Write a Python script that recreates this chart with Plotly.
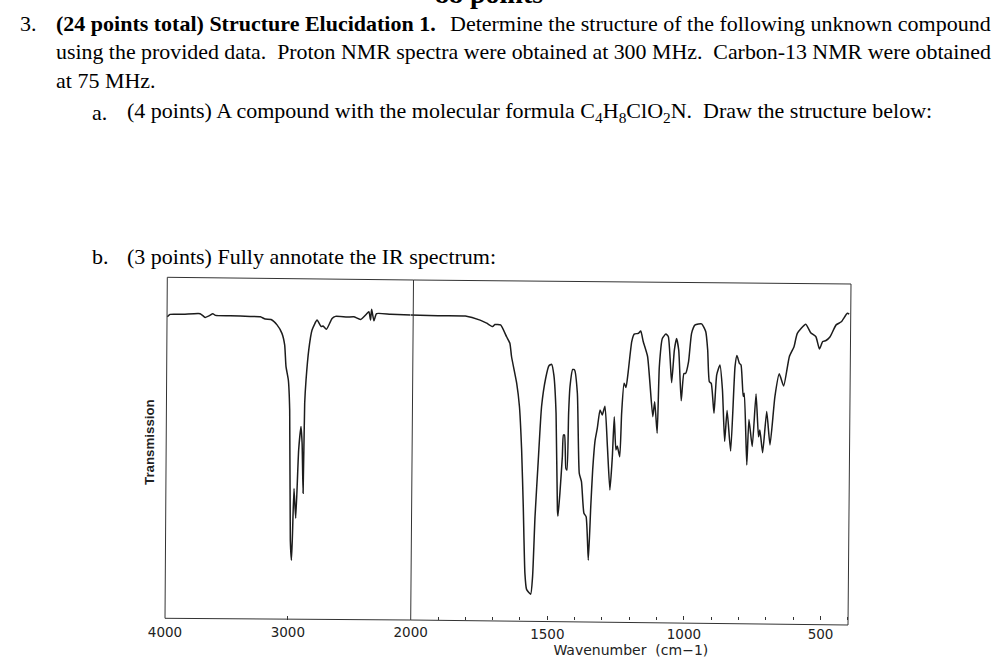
import plotly.graph_objects as go

W, H = 1002, 661

wn_high = [3981,3959,3850,3714,3673,3638,3611,3589,3469,3306,3224,3184,3137,3088,3048,3026,3015,2996,2985,2980,2971,2963,2950,2936,2912,2893,2884,2876,2863,2852,2830,2803,2762,2729,2713,2686,2640,2612,2517,2463,2408,2354,2340,2327,2318,2299,2278,2163,2000]
t_high = [89.2,89.9,89.9,90.1,89.0,89.5,90.1,89.6,89.5,89.3,89.2,88.5,88.4,86.8,84.3,80.9,74.5,70.6,61.8,23.5,17.6,24.5,38.7,29.9,50.0,56.9,52.0,37.3,63.7,70.6,79.4,85.3,88.2,86.3,86.5,85.5,88.7,89.3,89.1,89.2,88.4,90.2,90.7,88.2,91.4,88.0,90.1,89.9,89.7]

wn_low = [2000,1900,1800,1746,1722,1700,1692,1671,1649,1637,1631,1612,1602,1594,1588,1582,1576,1561,1554,1545,1533,1521,1506,1494,1484,1476,1468,1463,1461,1454,1445,1441,1437,1432,1428,1422,1417,1407,1400,1390,1383,1375,1366,1358,1350,1341,1334,1325,1317,1307,1299,1289,1280,1271,1262,1255,1249,1244,1235,1228,1219,1212,1204,1191,1182,1167,1158,1149,1133,1114,1107,1098,1090,1079,1066,1057,1045,1035,1027,1019,1010,1000,994,983,972,959,935,920,913,907,900,890,880,868,859,851,842,829,813,806,797,791,783,779,770,762,750,736,727,722,712,697,685,667,651,635,614,597,585,554,536,517,504,492,480,465,443,424,402,395]
t_low = [89.7,89.5,89.4,88.2,87.3,86.3,86.9,86.8,83.3,81.4,77.5,69.6,62.8,50.0,33.3,13.7,9.0,7.6,12.7,30.4,47.1,62.8,71.1,74.8,75.2,72.0,60.8,32.4,30.6,37.2,48.0,54.4,54.4,44.6,44.1,60.8,68.6,73.7,73.5,66.7,43.1,40.7,31.4,30.4,17.6,33.3,44.1,52.9,56.4,61.8,60.3,62.9,51.0,38.2,48.0,59.8,50.0,51.2,48.0,60.8,69.6,68.4,73.0,81.9,84.1,84.3,85.0,81.9,77.5,59.8,64.2,54.9,74.5,82.8,84.1,83.3,69.8,79.4,82.8,79.4,64.5,72.5,72.5,76.0,84.3,86.8,87.1,84.8,79.4,70.1,69.6,60.8,72.1,75.0,67.7,52.5,61.6,49.7,74.5,77.8,75.5,75.0,65.7,66.7,45.6,59.0,51.0,66.5,53.9,55.9,49.2,61.3,51.5,65.7,72.4,68.8,77.5,80.4,84.3,87.0,84.5,83.3,79.7,81.9,82.2,83.3,86.8,87.7,90.2,90.0]

ticks_high = [4000, 3000, 2000]
ticks_low = [1500, 1000, 500]

text_lines = [
    "3.",
    "<b>(24 points total) Structure Elucidation 1.</b>",
    "Determine the structure of the following unknown compound",
    "using the provided data.  Proton NMR spectra were obtained at 300 MHz.  Carbon-13 NMR were obtained",
    "at 75 MHz.",
    "a.",
    "(4 points) A compound with the molecular formula C<sub>4</sub>H<sub>8</sub>ClO<sub>2</sub>N.  Draw the structure below:",
    "b.",
    "(3 points) Fully annotate the IR spectrum:",
    "<b>88 points</b>",
]
text_places = [(20,23),(56,23),(450,23),(56,52),(56,81),(92,112),(127,112),(92,256),(127,256),(435,-6)]
text_sizes = [22, 22, 22, 21.88, 22, 22, 22, 22, 22, 28]

fx = lambda p: p / W
fy = lambda p: 1 - p / H

fig = go.Figure()
line = dict(color="#1c1c1c", width=1.5, shape="spline", smoothing=0.5)
fig.add_trace(go.Scatter(x=wn_high, y=t_high, mode="lines", line=line, xaxis="x", yaxis="y", showlegend=False))
fig.add_trace(go.Scatter(x=wn_low, y=t_low, mode="lines", line=line, xaxis="x2", yaxis="y", showlegend=False))

tickfont = dict(family="DejaVu Sans", size=13.5, color="#222")
fig.update_layout(
    width=W, height=H, margin=dict(l=0, r=0, t=0, b=0, pad=0, autoexpand=False),
    paper_bgcolor="white", plot_bgcolor="white", showlegend=False,
    xaxis=dict(domain=[fx(165), fx(410.7)], range=[4000, 2000], tickvals=ticks_high, automargin=False,
               showgrid=False, zeroline=False, showline=False, ticks="inside", ticklen=4,
               tickcolor="#333", tickfont=tickfont, anchor="y", ticklabelstandoff=2),
    xaxis2=dict(domain=[fx(410.7), fx(851)], range=[2000, 388.5], tickvals=ticks_low, automargin=False,
                showgrid=False, zeroline=False, showline=False, ticks="inside", ticklen=4,
                tickcolor="#333", tickfont=tickfont, anchor="y", ticklabelstandoff=4,
                minor=dict(dtick=100, tick0=0, ticks="inside", ticklen=3, tickcolor="#333", showgrid=False),
                title=dict(text="Wavenumber\u00a0\u00a0(cm\u22121)", font=dict(family="DejaVu Sans", size=14, color="#222"), standoff=4)),
    yaxis=dict(domain=[fy(620), fy(280)], range=[0, 100], showticklabels=False, ticks="", automargin=False,
               showgrid=False, zeroline=False, showline=False),
    font=dict(family="Liberation Serif", color="black"),
)

frame = [((167.3,277.3),(413.5,280)),((167.3,277.3),(165,618.3)),((165,618.3),(410.7,620)),
         ((413.5,280),(410.7,620)),((413.5,280),(851,284)),((851,284),(848,625)),((410.7,620),(848,625))]
for (a, b) in frame:
    fig.add_shape(type="line", xref="paper", yref="paper", x0=fx(a[0]), y0=fy(a[1]), x1=fx(b[0]), y1=fy(b[1]),
                  line=dict(color="#333", width=1))

for txt, (px, py), sz in zip(text_lines, text_places, text_sizes):
    fig.add_annotation(text=txt, xref="paper", yref="paper", x=fx(px), y=fy(py), xanchor="left", yanchor="middle",
                       showarrow=False, align="left", font=dict(family="Liberation Serif", size=sz, color="black"),
                       borderpad=0, borderwidth=0)

fig.add_annotation(text="<b>Transmission</b>", xref="paper", yref="paper", x=fx(149), y=fy(442), textangle=-90,
                   xanchor="center", yanchor="middle",
                   showarrow=False, font=dict(family="Liberation Sans", size=13.3, color="#222"))

fig.write_html("out.html", config={"displayModeBar": False},
               post_script="document.body.style.margin='0';document.documentElement.style.overflow='hidden';")
